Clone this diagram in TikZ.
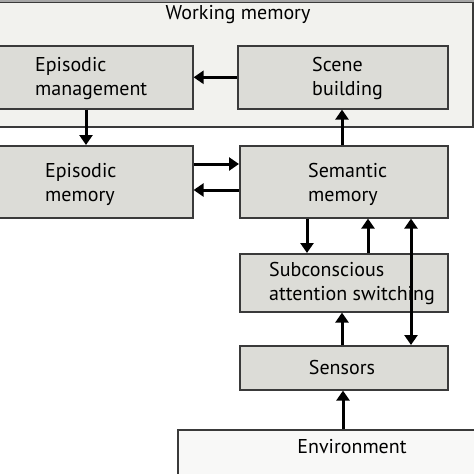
\documentclass[tikz,border=0pt]{standalone}
\usepackage{fontspec}
\setmainfont{PT Sans}
\usetikzlibrary{arrows.meta}
\definecolor{boxfill}{HTML}{DCDCD7}
\definecolor{wmfill}{HTML}{F2F2EE}
\definecolor{envfill}{HTML}{F8F8F7}
\definecolor{edge}{HTML}{3A3A3A}
\tikzset{
  box/.style={draw=edge, line width=1.6pt, fill=boxfill, anchor=north west, inner sep=0pt},
  lbl/.style={font=\fontsize{20}{24}\selectfont, align=left, inner sep=0pt, text=black},
  arr/.style={line width=3pt, -{Triangle[length=10pt,width=13pt]}},
  darr/.style={line width=3pt, {Triangle[length=10pt,width=13pt]}-{Triangle[length=10pt,width=13pt]}},
}
\begin{document}
\begin{tikzpicture}[x=1pt,y=-1pt]
\useasboundingbox (0,0) rectangle (474,474);
\fill[white] (0,0) rectangle (474,474);
% working memory
\node[draw=edge, line width=1.8pt, fill=wmfill, anchor=north west, inner sep=0pt,
      minimum width=484pt, minimum height=125pt] (wm) at (-12,1) {};
\draw[line width=2.5pt, gray!70] (wm.north west) -- (wm.north east);
\node[lbl, anchor=center] (wmt) at (238,15) {Working memory};
% boxes
\node[box, minimum width=204pt, minimum height=63pt] (em) at (-12,45) {};
\node[lbl, anchor=north west] (emt) at (35,57) {Episodic\\management};
\node[box, minimum width=210pt, minimum height=63pt] (sb) at (237,45) {};
\node[lbl, anchor=north west] (sbt) at (312,57) {Scene\\building};
\node[box, minimum width=204pt, minimum height=72pt] (epm) at (-12,145) {};
\node[lbl, anchor=north west] (epmt) at (45,163) {Episodic\\memory};
\node[box, minimum width=208pt, minimum height=72pt] (sm) at (239,145) {};
\node[lbl, anchor=north west] (smt) at (308,163) {Semantic\\memory};
\node[box, minimum width=208pt, minimum height=58pt] (sub) at (239,253) {};
\node[lbl, anchor=north west] (subt) at (269,262) {Subconscious\\attention switching};
\node[box, minimum width=208pt, minimum height=44pt] (sen) at (239,345) {};
\node[lbl, anchor=center] (sent) at (342,367) {Sensors};
\node[draw=edge, line width=1.6pt, fill=envfill, anchor=north west, inner sep=0pt,
      minimum width=310pt, minimum height=50pt] (env) at (177,429) {};
\draw[line width=2.5pt, gray!70] (env.south west) -- (env.south east);
\node[lbl, anchor=center] (envt) at (352,447) {Environment};
% connectors
\draw[arr] (sb.west) -- (em.east);
\draw[arr] (em.south -| 86,0) -- (epm.north -| 86,0);
\draw[arr] (epm.east |- 0,164) -- (sm.west |- 0,164);
\draw[arr] (sm.west |- 0,190) -- (epm.east |- 0,190);
\draw[arr] (sm.north -| 342,0) -- (sb.south -| 342,0);
\draw[arr] (sm.south -| 307,0) -- (sub.north -| 307,0);
\draw[arr] (sub.north -| 368,0) -- (sm.south -| 368,0);
\draw[darr] (sm.south -| 411,0) -- (sen.north -| 411,0);
\draw[arr] (sen.north -| 342,0) -- (sub.south -| 342,0);
\draw[arr] (env.north -| 343,0) -- (sen.south -| 343,0);
\end{tikzpicture}
\end{document}
